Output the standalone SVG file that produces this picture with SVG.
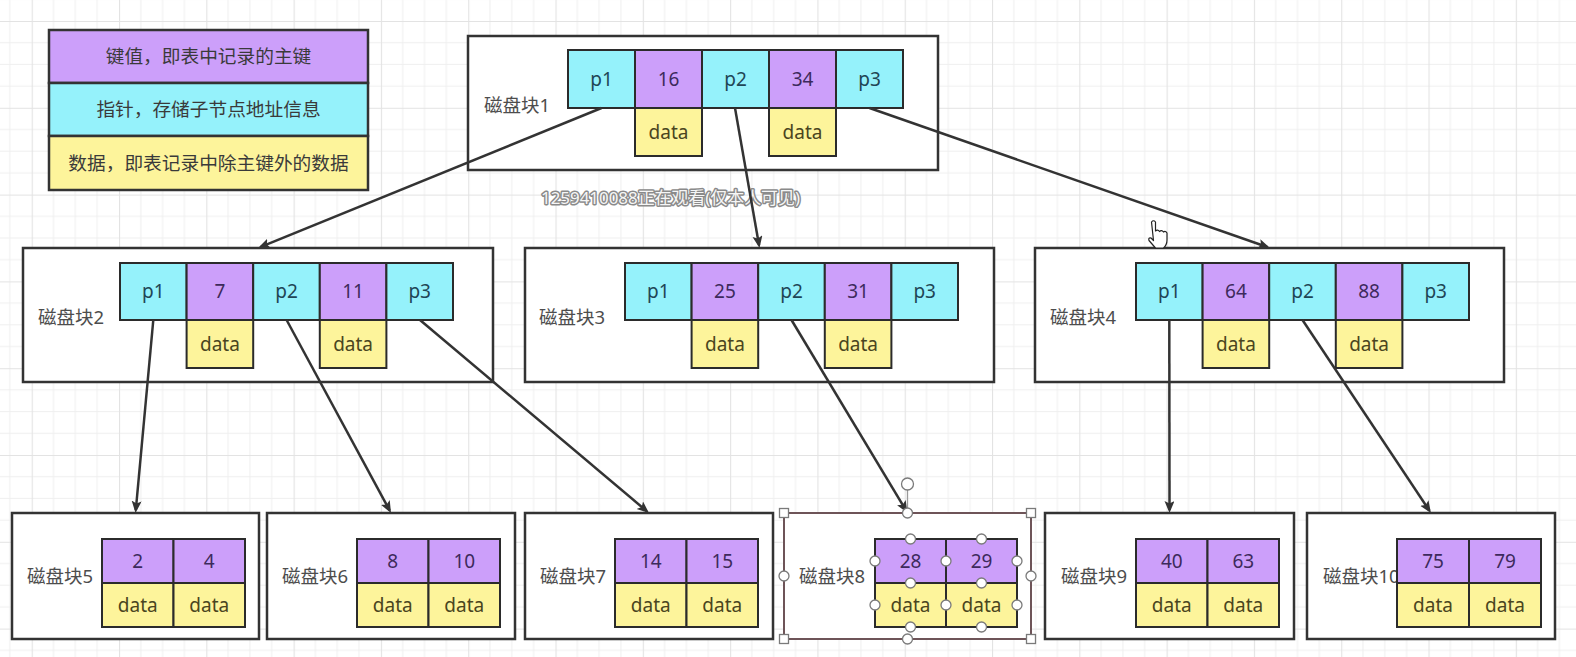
<svg xmlns="http://www.w3.org/2000/svg" width="1576" height="657" viewBox="0 0 1576 657">
<style>
.blk{fill:#fff;stroke:#333;stroke-width:2.5}
.ptr{fill:#95f2fb;stroke:#2b2b2b;stroke-width:2}
.key{fill:#cc9ffa;stroke:#2b2b2b;stroke-width:2}
.dat{fill:#fdf49b;stroke:#2b2b2b;stroke-width:2}
.t{font-family:"Noto Sans","Noto Sans CJK SC",sans-serif;font-size:19px;text-anchor:middle}
.tp{fill:#1f4656}
.tk{fill:#3d2a5c}
.td{fill:#4a4520}
.lbl{font-family:"Noto Sans","Noto Sans CJK SC",sans-serif;font-size:18.5px;fill:#4d4d4d}
.leg{font-family:"Noto Sans CJK SC","Noto Sans",sans-serif;font-size:18.7px;text-anchor:middle;fill:#3a3a3a}
.conn{stroke:#333;stroke-width:2.5;fill:none;marker-end:url(#arr)}
.h{fill:#fff;stroke:#7a7a7a;stroke-width:1.3}
</style>
<defs>
<pattern id="grid" patternUnits="userSpaceOnUse" x="31.7" y="21" width="87.3" height="86.8">
<path d="M21.8 0V86.8M43.6 0V86.8M65.4 0V86.8M0 21.7H87.3M0 43.4H87.3M0 65.1H87.3" stroke="#efefef" stroke-width="1" fill="none"/>
<path d="M0.5 0V86.8M0 0.5H87.3" stroke="#e3e3e3" stroke-width="1.2" fill="none"/>
</pattern>
<marker id="arr" markerUnits="userSpaceOnUse" markerWidth="14" markerHeight="12" refX="9" refY="5" orient="auto">
<path d="M0,0 L12,5 L0,10 L2.5,5 z" fill="#333"/>
</marker>
</defs>
<rect width="1576" height="657" fill="#fff"/>
<rect width="1576" height="657" fill="url(#grid)"/>

<g id="legend">
<rect x="49" y="30" width="319" height="53" class="key" style="stroke:#333;stroke-width:2.5"/>
<rect x="49" y="83" width="319" height="53" class="ptr" style="stroke:#333;stroke-width:2.5"/>
<rect x="49" y="136" width="319" height="54" class="dat" style="stroke:#333;stroke-width:2.5"/>
<text class="leg" x="208.5" y="63">键值，即表中记录的主键</text>
<text class="leg" x="208.5" y="116">指针，存储子节点地址信息</text>
<text class="leg" x="208.5" y="169.5">数据，即表记录中除主键外的数据</text>
</g>

<g id="block1">
<rect class="blk" x="468" y="36" width="470" height="134"/>
<rect class="ptr" x="568" y="50" width="67" height="58"/>
<rect class="key" x="635" y="50" width="67" height="58"/>
<rect class="ptr" x="702" y="50" width="67" height="58"/>
<rect class="key" x="769" y="50" width="67" height="58"/>
<rect class="ptr" x="836" y="50" width="67" height="58"/>
<rect class="dat" x="635" y="108" width="67" height="48"/>
<rect class="dat" x="769" y="108" width="67" height="48"/>
<text class="t tp" x="601.5" y="85.5">p1</text>
<text class="t tk" x="668.5" y="85.5">16</text>
<text class="t tp" x="735.5" y="85.5">p2</text>
<text class="t tk" x="802.5" y="85.5">34</text>
<text class="t tp" x="869.5" y="85.5">p3</text>
<text class="t td" x="668.5" y="138.5">data</text>
<text class="t td" x="802.5" y="138.5">data</text>
<text class="lbl" x="484" y="111.5">磁盘块1</text>
</g>

<g id="block2">
<rect class="blk" x="23" y="248" width="470" height="134"/>
<rect class="ptr" x="120" y="263" width="66.6" height="57"/>
<rect class="key" x="186.6" y="263" width="66.6" height="57"/>
<rect class="ptr" x="253.2" y="263" width="66.6" height="57"/>
<rect class="key" x="319.8" y="263" width="66.6" height="57"/>
<rect class="ptr" x="386.4" y="263" width="66.6" height="57"/>
<rect class="dat" x="186.6" y="320" width="66.6" height="48"/>
<rect class="dat" x="319.8" y="320" width="66.6" height="48"/>
<text class="t tp" x="153.3" y="298">p1</text>
<text class="t tk" x="219.9" y="298">7</text>
<text class="t tp" x="286.5" y="298">p2</text>
<text class="t tk" x="353.1" y="298">11</text>
<text class="t tp" x="419.7" y="298">p3</text>
<text class="t td" x="219.9" y="350.5">data</text>
<text class="t td" x="353.1" y="350.5">data</text>
<text class="lbl" x="38" y="323.5">磁盘块2</text>
</g>

<g id="block3">
<rect class="blk" x="525" y="248" width="469" height="134"/>
<rect class="ptr" x="625" y="263" width="66.6" height="57"/>
<rect class="key" x="691.6" y="263" width="66.6" height="57"/>
<rect class="ptr" x="758.2" y="263" width="66.6" height="57"/>
<rect class="key" x="824.8" y="263" width="66.6" height="57"/>
<rect class="ptr" x="891.4" y="263" width="66.6" height="57"/>
<rect class="dat" x="691.6" y="320" width="66.6" height="48"/>
<rect class="dat" x="824.8" y="320" width="66.6" height="48"/>
<text class="t tp" x="658.3" y="298">p1</text>
<text class="t tk" x="724.9" y="298">25</text>
<text class="t tp" x="791.5" y="298">p2</text>
<text class="t tk" x="858.1" y="298">31</text>
<text class="t tp" x="924.7" y="298">p3</text>
<text class="t td" x="724.9" y="350.5">data</text>
<text class="t td" x="858.1" y="350.5">data</text>
<text class="lbl" x="539" y="323.5">磁盘块3</text>
</g>

<g id="block4">
<rect class="blk" x="1035" y="248" width="469" height="134"/>
<rect class="ptr" x="1136" y="263" width="66.6" height="57"/>
<rect class="key" x="1202.6" y="263" width="66.6" height="57"/>
<rect class="ptr" x="1269.2" y="263" width="66.6" height="57"/>
<rect class="key" x="1335.8" y="263" width="66.6" height="57"/>
<rect class="ptr" x="1402.4" y="263" width="66.6" height="57"/>
<rect class="dat" x="1202.6" y="320" width="66.6" height="48"/>
<rect class="dat" x="1335.8" y="320" width="66.6" height="48"/>
<text class="t tp" x="1169.3" y="298">p1</text>
<text class="t tk" x="1235.9" y="298">64</text>
<text class="t tp" x="1302.5" y="298">p2</text>
<text class="t tk" x="1369.1" y="298">88</text>
<text class="t tp" x="1435.7" y="298">p3</text>
<text class="t td" x="1235.9" y="350.5">data</text>
<text class="t td" x="1369.1" y="350.5">data</text>
<text class="lbl" x="1050" y="323.5">磁盘块4</text>
</g>

<g id="block5">
<rect class="blk" x="12" y="513" width="247" height="126"/>
<rect class="key" x="102" y="539" width="71.5" height="44"/>
<rect class="key" x="173.5" y="539" width="71.5" height="44"/>
<rect class="dat" x="102" y="583" width="71.5" height="44"/>
<rect class="dat" x="173.5" y="583" width="71.5" height="44"/>
<text class="t tk" x="137.75" y="567.5">2</text>
<text class="t tk" x="209.25" y="567.5">4</text>
<text class="t td" x="137.75" y="611.5">data</text>
<text class="t td" x="209.25" y="611.5">data</text>
<text class="lbl" x="27" y="582.5">磁盘块5</text>
</g>

<g id="block6">
<rect class="blk" x="267" y="513" width="248" height="126"/>
<rect class="key" x="357" y="539" width="71.5" height="44"/>
<rect class="key" x="428.5" y="539" width="71.5" height="44"/>
<rect class="dat" x="357" y="583" width="71.5" height="44"/>
<rect class="dat" x="428.5" y="583" width="71.5" height="44"/>
<text class="t tk" x="392.75" y="567.5">8</text>
<text class="t tk" x="464.25" y="567.5">10</text>
<text class="t td" x="392.75" y="611.5">data</text>
<text class="t td" x="464.25" y="611.5">data</text>
<text class="lbl" x="282" y="582.5">磁盘块6</text>
</g>

<g id="block7">
<rect class="blk" x="525" y="513" width="248" height="126"/>
<rect class="key" x="615" y="539" width="71.5" height="44"/>
<rect class="key" x="686.5" y="539" width="71.5" height="44"/>
<rect class="dat" x="615" y="583" width="71.5" height="44"/>
<rect class="dat" x="686.5" y="583" width="71.5" height="44"/>
<text class="t tk" x="650.75" y="567.5">14</text>
<text class="t tk" x="722.25" y="567.5">15</text>
<text class="t td" x="650.75" y="611.5">data</text>
<text class="t td" x="722.25" y="611.5">data</text>
<text class="lbl" x="540" y="582.5">磁盘块7</text>
</g>

<g id="block8">
<rect class="blk" x="784" y="513" width="247" height="126" style="stroke:#6e5458;stroke-width:2"/>
<rect class="key" x="875" y="539" width="71" height="44"/>
<rect class="key" x="946" y="539" width="71" height="44"/>
<rect class="dat" x="875" y="583" width="71" height="44"/>
<rect class="dat" x="946" y="583" width="71" height="44"/>
<text class="t tk" x="910.5" y="567.5">28</text>
<text class="t tk" x="981.5" y="567.5">29</text>
<text class="t td" x="910.5" y="611.5">data</text>
<text class="t td" x="981.5" y="611.5">data</text>
<text class="lbl" x="799" y="582.5">磁盘块8</text>
</g>

<g id="block9">
<rect class="blk" x="1045" y="513" width="249" height="126"/>
<rect class="key" x="1136" y="539" width="71.5" height="44"/>
<rect class="key" x="1207.5" y="539" width="71.5" height="44"/>
<rect class="dat" x="1136" y="583" width="71.5" height="44"/>
<rect class="dat" x="1207.5" y="583" width="71.5" height="44"/>
<text class="t tk" x="1171.75" y="567.5">40</text>
<text class="t tk" x="1243.25" y="567.5">63</text>
<text class="t td" x="1171.75" y="611.5">data</text>
<text class="t td" x="1243.25" y="611.5">data</text>
<text class="lbl" x="1061" y="582.5">磁盘块9</text>
</g>

<g id="block10">
<rect class="blk" x="1307" y="513" width="248" height="126"/>
<text class="lbl" x="1323" y="582.5">磁盘块10</text>
<rect class="key" x="1397" y="539" width="72" height="44"/>
<rect class="key" x="1469" y="539" width="72" height="44"/>
<rect class="dat" x="1397" y="583" width="72" height="44"/>
<rect class="dat" x="1469" y="583" width="72" height="44"/>
<text class="t tk" x="1433" y="567.5">75</text>
<text class="t tk" x="1505" y="567.5">79</text>
<text class="t td" x="1433" y="611.5">data</text>
<text class="t td" x="1505" y="611.5">data</text>
</g>

<text x="541" y="204" font-family="'Noto Sans','Noto Sans CJK SC',sans-serif" font-size="17" textLength="259" lengthAdjust="spacingAndGlyphs" fill="#f6f6f6" stroke="#8a8a8a" stroke-width="3" paint-order="stroke" stroke-linejoin="round">1259410088正在观看(仅本人可见)</text>

<g id="connectors">
<line class="conn" x1="601.5" y1="108" x2="260.8" y2="246.9"/>
<line class="conn" x1="735" y1="108" x2="759" y2="245"/>
<line class="conn" x1="869.5" y1="108" x2="1267.2" y2="247"/>
<line class="conn" x1="153.3" y1="320" x2="135.8" y2="510"/>
<line class="conn" x1="286.6" y1="320" x2="389.6" y2="510.4"/>
<line class="conn" x1="420" y1="320" x2="646.7" y2="511.1"/>
<line class="conn" x1="791.5" y1="320" x2="906" y2="510.4"/>
<line class="conn" x1="1169.3" y1="320" x2="1169.5" y2="510"/>
<line class="conn" x1="1302.5" y1="320" x2="1429.3" y2="510.5"/>
</g>

<g id="selection">
<line x1="907.5" y1="490" x2="907.5" y2="508" stroke="#9a9a9a" stroke-width="1.3"/>
<circle class="h" cx="907.5" cy="484" r="6"/>
<rect class="h" x="779.5" y="508.5" width="9" height="9"/>
<rect class="h" x="1026.5" y="508.5" width="9" height="9"/>
<rect class="h" x="779.5" y="634.5" width="9" height="9"/>
<rect class="h" x="1026.5" y="634.5" width="9" height="9"/>
<circle class="h" cx="907.5" cy="513" r="5"/>
<circle class="h" cx="784" cy="576" r="5"/>
<circle class="h" cx="1031" cy="576" r="5"/>
<circle class="h" cx="907.5" cy="639" r="5"/>
<circle class="h" cx="910.5" cy="539" r="5"/>
<circle class="h" cx="981.5" cy="539" r="5"/>
<circle class="h" cx="875" cy="561" r="5"/>
<circle class="h" cx="946" cy="561" r="5"/>
<circle class="h" cx="1017" cy="561" r="5"/>
<circle class="h" cx="910.5" cy="583" r="5"/>
<circle class="h" cx="981.5" cy="583" r="5"/>
<circle class="h" cx="875" cy="605" r="5"/>
<circle class="h" cx="946" cy="605" r="5"/>
<circle class="h" cx="1017" cy="605" r="5"/>
<circle class="h" cx="910.5" cy="627" r="5"/>
<circle class="h" cx="981.5" cy="627" r="5"/>
</g>

<path d="M1151.5,222 q2,-2.5 4,0 v9 q2,-2 4,0.5 q2,-2 4,0.5 q2,-1.5 3.5,1 v7 q0,5 -3.5,8 h-8 l-6.5,-7.5 q-1,-3 2,-2.5 l2.5,2.5 z" fill="#fff" stroke="#222" stroke-width="1.2" stroke-linejoin="round"/>
</svg>
